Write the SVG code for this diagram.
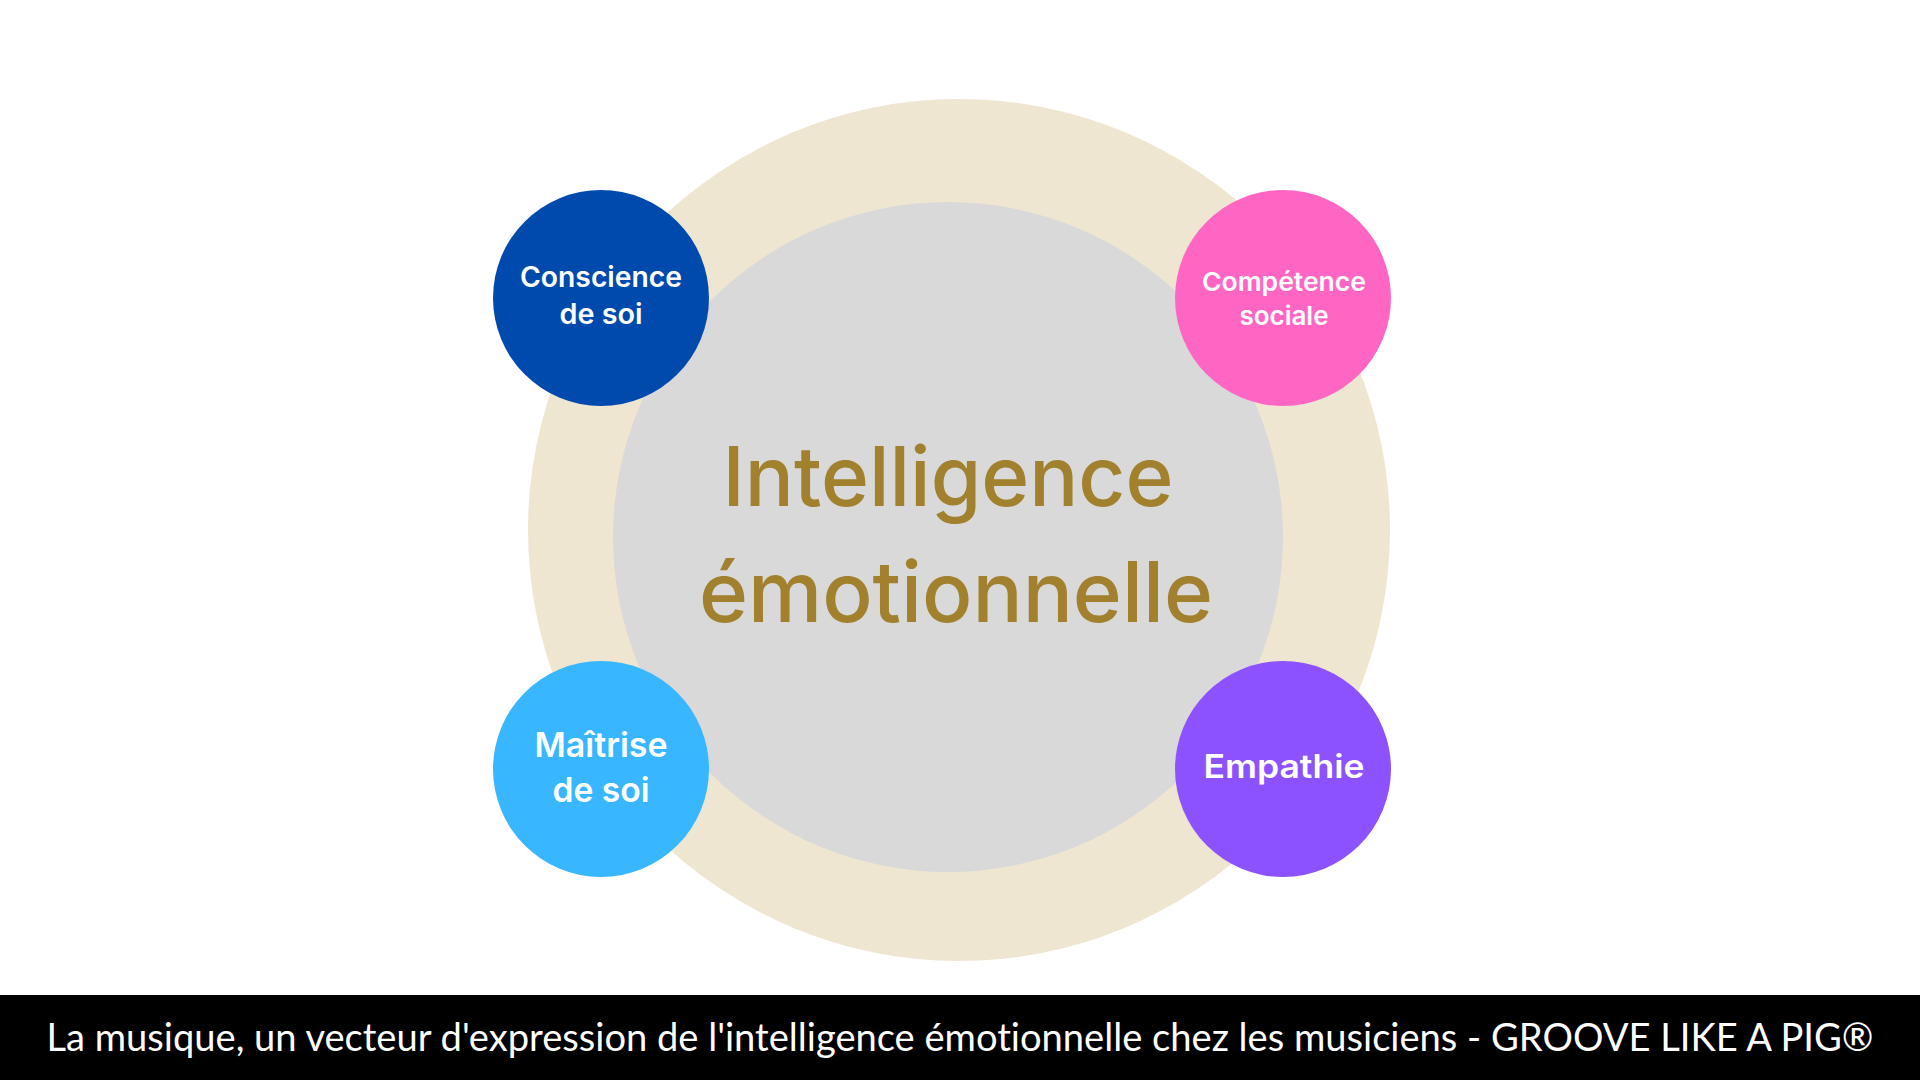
<svg xmlns="http://www.w3.org/2000/svg" width="1920" height="1080" viewBox="0 0 1920 1080">
<style>
.lbl{font-family:Inter,"Open Sans","Noto Sans",sans-serif;font-weight:600;fill:#ffffff;text-anchor:middle}
.title{font-family:Inter,"Open Sans","Noto Sans",sans-serif;font-weight:500;fill:#A2812E;text-anchor:middle}
.foot{font-family:Lato,"Liberation Sans",sans-serif;fill:#ffffff;text-anchor:middle;font-variant-ligatures:none}
</style>
<rect width="1920" height="1080" fill="#ffffff"/>
<g id="background">
<circle cx="959" cy="530" r="431" fill="#EFE6D2"/>
<circle cx="948" cy="537" r="335" fill="#D9D9D9"/>
</g>
<g id="center">
<text class="title" x="948" y="506" font-size="83" textLength="451" lengthAdjust="spacingAndGlyphs">Intelligence</text>
<text class="title" x="956" y="622" font-size="84" textLength="514" lengthAdjust="spacingAndGlyphs">émotionnelle</text>
</g>
<g id="connectors"></g>
<g id="node-conscience">
<circle cx="601" cy="298" r="108" fill="#004AAD"/>
<text class="lbl" x="601" y="287" font-size="28" textLength="162" lengthAdjust="spacingAndGlyphs">Conscience</text>
<text class="lbl" x="601" y="324" font-size="28" textLength="83" lengthAdjust="spacingAndGlyphs">de soi</text>
</g>
<g id="node-competence">
<circle cx="1283" cy="298" r="108" fill="#FF66C4"/>
<text class="lbl" x="1284" y="291" font-size="26" textLength="164" lengthAdjust="spacingAndGlyphs">Compétence</text>
<text class="lbl" x="1284" y="325" font-size="26" textLength="89" lengthAdjust="spacingAndGlyphs">sociale</text>
</g>
<g id="node-maitrise">
<circle cx="601" cy="769" r="108" fill="#38B6FF"/>
<text class="lbl" x="601" y="757" font-size="34" textLength="133" lengthAdjust="spacingAndGlyphs">Maîtrise</text>
<text class="lbl" x="601" y="802" font-size="34" textLength="97" lengthAdjust="spacingAndGlyphs">de soi</text>
</g>
<g id="node-empathie">
<circle cx="1283" cy="769" r="108" fill="#8C52FF"/>
<text class="lbl" x="1284" y="778" font-size="33" textLength="161" lengthAdjust="spacingAndGlyphs">Empathie</text>
</g>
<g id="footer">
<rect x="0" y="995" width="1920" height="85" fill="#000000"/>
<text class="foot" x="960" y="1051" font-size="38" textLength="1827" lengthAdjust="spacingAndGlyphs">La musique, un vecteur d'expression de l'intelligence émotionnelle chez les musiciens - GROOVE LIKE A PIG®</text>
</g>
</svg>
